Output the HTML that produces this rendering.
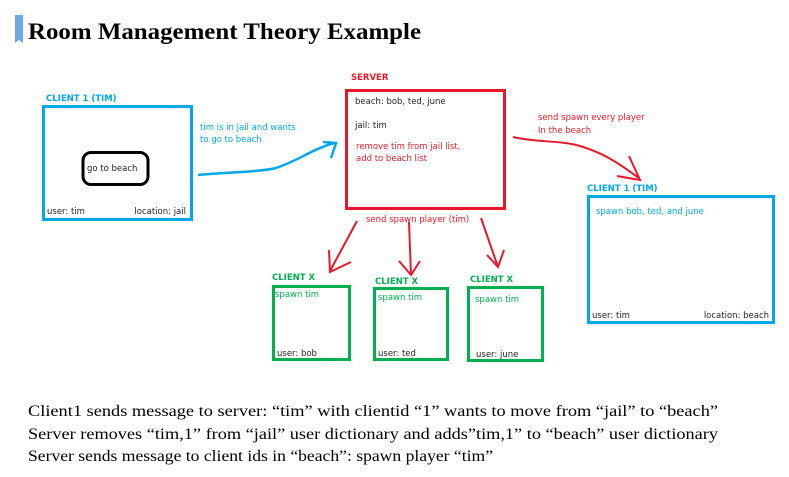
<!DOCTYPE html>
<html><head><meta charset="utf-8"><style>
html,body{margin:0;padding:0;background:#fff;width:789px;height:477px;overflow:hidden}
svg{display:block}
.s{font-family:"DejaVu Sans","Liberation Sans",sans-serif;font-size:8.5px}
.b{font-weight:bold}
.serif{font-family:"Liberation Serif",serif}
</style></head><body>
<svg width="789" height="477" viewBox="0 0 789 477" xmlns="http://www.w3.org/2000/svg">
<polygon points="15,15 23,15 23,43 19,40 15,43" fill="#6fa8e0"/>
<text x="28" y="39" class="serif b" font-size="23" fill="#000" textLength="393" lengthAdjust="spacingAndGlyphs">Room Management Theory Example</text>

<!-- client 1 left -->
<text x="46" y="101" class="s b" fill="#00a8e8">CLIENT 1 (TIM)</text>
<rect x="43.5" y="106.5" width="148" height="113" fill="none" stroke="#00a8e8" stroke-width="3"/>
<rect x="83" y="152.5" width="65" height="32" rx="8" fill="none" stroke="#000" stroke-width="3"/>
<text x="87" y="171" class="s" fill="#222">go to beach</text>
<text x="47" y="214" class="s" fill="#222">user: tim</text>
<text x="186" y="214" class="s" fill="#222" text-anchor="end">location: jail</text>
<text x="200" y="130" class="s" fill="#00a8e8">tim is in jail and wants</text>
<text x="200" y="142" class="s" fill="#00a8e8">to go to beach</text>
<path d="M198,175 C230,172 260,172 276,168 C300,160 310,150 334,143" fill="none" stroke="#00a8e8" stroke-width="2.5"/>
<path d="M323,142 L336,143 L331,158" fill="none" stroke="#00a8e8" stroke-width="2.5"/>

<!-- server -->
<text x="351" y="80" class="s b" fill="#e8182c">SERVER</text>
<rect x="346.5" y="90.5" width="158" height="118" fill="none" stroke="#e8182c" stroke-width="3"/>
<text x="355" y="104" class="s" fill="#222">beach: bob, ted, june</text>
<text x="355" y="128" class="s" fill="#222">jail: tim</text>
<text x="356" y="149" class="s" fill="#e8182c">remove tim from jail list,</text>
<text x="356" y="161" class="s" fill="#e8182c">add to beach list</text>

<text x="538" y="120" class="s" fill="#e8182c">send spawn every player</text>
<text x="538" y="133" class="s" fill="#e8182c">In the beach</text>
<path d="M513,137 C540,143 560,140 580,146 C600,152 615,160 640,179" fill="none" stroke="#e8182c" stroke-width="2"/>
<path d="M629,156 L640,180 L617,176" fill="none" stroke="#e8182c" stroke-width="2"/>

<!-- client 1 right -->
<text x="587" y="191" class="s b" fill="#00a8e8">CLIENT 1 (TIM)</text>
<rect x="588.5" y="196.5" width="185" height="126" fill="none" stroke="#00a8e8" stroke-width="3"/>
<text x="596" y="214" class="s" fill="#00a8e8">spawn bob, ted, and june</text>
<text x="592" y="318" class="s" fill="#222">user: tim</text>
<text x="769" y="318" class="s" fill="#222" text-anchor="end">location: beach</text>

<text x="366" y="222" class="s" fill="#e8182c">send spawn player (tim)</text>
<path d="M357,221 L330,271" fill="none" stroke="#e8182c" stroke-width="2"/>
<path d="M329,250 L330,272 L351,262" fill="none" stroke="#e8182c" stroke-width="2"/>
<path d="M409,222 L411,275" fill="none" stroke="#e8182c" stroke-width="2"/>
<path d="M399,261 L411,275 L420,261" fill="none" stroke="#e8182c" stroke-width="2"/>
<path d="M481,218 L498,267" fill="none" stroke="#e8182c" stroke-width="2"/>
<path d="M487,255 L498,267 L504,250" fill="none" stroke="#e8182c" stroke-width="2"/>

<!-- clients X -->
<g class="s" fill="#00b050">
<text x="272" y="280" class="b">CLIENT X</text>
<text x="375" y="284" class="b">CLIENT X</text>
<text x="470" y="282" class="b">CLIENT X</text>
<text x="275" y="297">spawn tim</text>
<text x="378" y="300">spawn tim</text>
<text x="475" y="302">spawn tim</text>
</g>
<rect x="273.5" y="286.5" width="76" height="73" fill="none" stroke="#00b050" stroke-width="3"/>
<rect x="374.5" y="288.5" width="73" height="71" fill="none" stroke="#00b050" stroke-width="3"/>
<rect x="468.5" y="287.5" width="74" height="73" fill="none" stroke="#00b050" stroke-width="3"/>
<text x="277" y="356" class="s" fill="#222">user: bob</text>
<text x="378" y="356" class="s" fill="#222">user: ted</text>
<text x="476" y="357" class="s" fill="#222">user: june</text>

<g class="serif" font-size="16" fill="#000">
<text x="28" y="416" textLength="690" lengthAdjust="spacingAndGlyphs">Client1 sends message to server: “tim” with clientid “1” wants to move from “jail” to “beach”</text>
<text x="28" y="439" textLength="690" lengthAdjust="spacingAndGlyphs">Server removes “tim,1” from “jail” user dictionary and adds”tim,1” to “beach” user dictionary</text>
<text x="28" y="461" textLength="465" lengthAdjust="spacingAndGlyphs">Server sends message to client ids in “beach”: spawn player “tim”</text>
</g>
</svg>
</body></html>
